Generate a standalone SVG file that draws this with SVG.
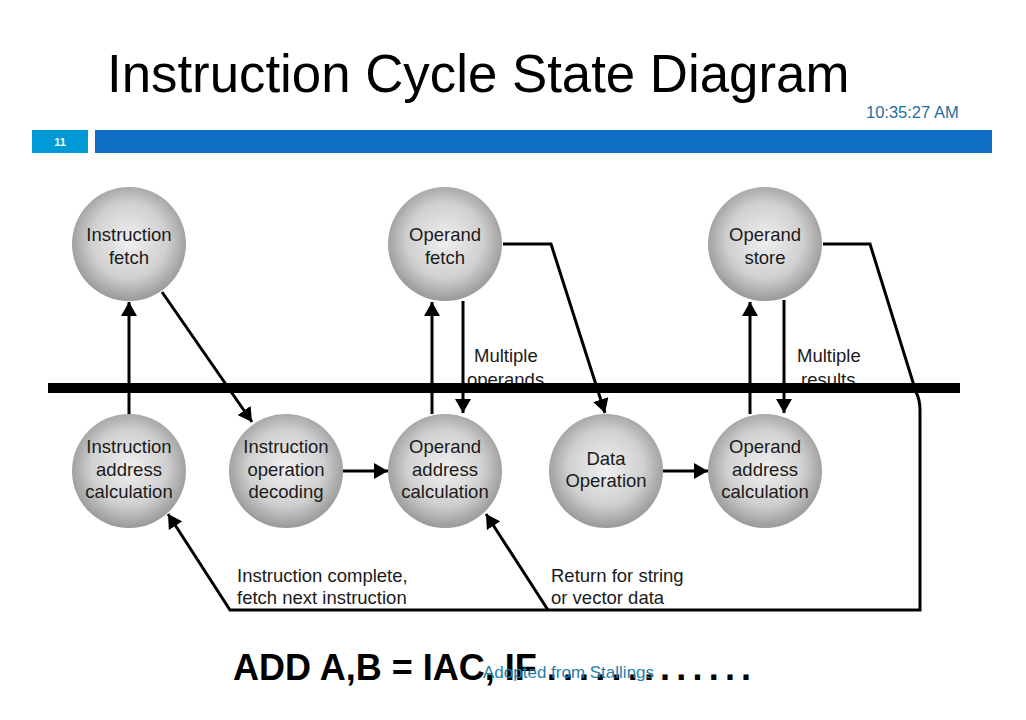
<svg xmlns="http://www.w3.org/2000/svg" width="1026" height="720" viewBox="0 0 1026 720">
<style>
.node circle{fill:url(#g)}
.nt{font-family:"Liberation Sans",Arial,sans-serif;font-size:18.5px;fill:#1a1a1a;text-anchor:middle}
.lbl{font-family:"Liberation Sans",Arial,sans-serif;font-size:18.5px;fill:#1a1a1a}
.c{fill:none;stroke:#000;stroke-width:3;stroke-linejoin:miter}
</style>
<defs>
<radialGradient id="g" cx="50%" cy="47%" r="55%">
<stop offset="0" stop-color="#f0f0f0"/>
<stop offset="0.6" stop-color="#d0d0d0"/>
<stop offset="1" stop-color="#939393"/>
</radialGradient>
<marker id="a" markerUnits="userSpaceOnUse" markerWidth="16" markerHeight="16" refX="14" refY="8" orient="auto">
<path d="M0,0 L14,8 L0,16 z" fill="#000"/>
</marker>
</defs>
<rect width="1026" height="720" fill="#fff"/>
<text x="107" y="92" font-family="Liberation Sans,Arial,sans-serif" font-size="52.8" fill="#000">Instruction Cycle State Diagram</text>
<text x="866" y="118" font-family="Liberation Sans,Arial,sans-serif" font-size="16.5" fill="#1f6e9e">10:35:27 AM</text>
<rect x="32" y="130" width="56" height="23" fill="#0099d8"/>
<text x="60" y="146" font-family="Liberation Sans,Arial,sans-serif" font-size="11" font-weight="bold" fill="#fff" text-anchor="middle">11</text>
<rect x="95" y="130" width="897" height="23" fill="#0f6fc6"/>

<g id="connectors">
<path class="c" d="M129,414 L129,302" marker-end="url(#a)"/>
<path class="c" d="M162,292 L252,422" marker-end="url(#a)"/>
<path class="c" d="M343,471 L388,471" marker-end="url(#a)"/>
<path class="c" d="M432,414 L432,302" marker-end="url(#a)"/>
<path class="c" d="M463,301 L463,413" marker-end="url(#a)"/>
<path class="c" d="M503,244 L551,244 L605,413" marker-end="url(#a)"/>
<path class="c" d="M663,471 L708,471" marker-end="url(#a)"/>
<path class="c" d="M750,414 L750,302" marker-end="url(#a)"/>
<path class="c" d="M784,300 L784,413" marker-end="url(#a)"/>
<path class="c" d="M823,244 L870,244 L916,392 Q920,400 920,410 L920,610 L230,610 L168,514" marker-end="url(#a)"/>
<path class="c" d="M548,610 L486,514" marker-end="url(#a)"/>
</g>

<g id="n-if" class="node"><circle cx="129" cy="244" r="57"/><text class="nt" x="129" y="241">Instruction</text><text class="nt" x="129" y="264">fetch</text></g>
<g id="n-of" class="node"><circle cx="445" cy="244" r="57"/><text class="nt" x="445" y="241">Operand</text><text class="nt" x="445" y="264">fetch</text></g>
<g id="n-os" class="node"><circle cx="765" cy="244" r="57"/><text class="nt" x="765" y="241">Operand</text><text class="nt" x="765" y="264">store</text></g>
<g id="n-iac" class="node"><circle cx="129" cy="471" r="57"/><text class="nt" x="129" y="453">Instruction</text><text class="nt" x="129" y="476">address</text><text class="nt" x="129" y="498">calculation</text></g>
<g id="n-iod" class="node"><circle cx="286" cy="471" r="57"/><text class="nt" x="286" y="453">Instruction</text><text class="nt" x="286" y="476">operation</text><text class="nt" x="286" y="498">decoding</text></g>
<g id="n-oac1" class="node"><circle cx="445" cy="471" r="57"/><text class="nt" x="445" y="453">Operand</text><text class="nt" x="445" y="476">address</text><text class="nt" x="445" y="498">calculation</text></g>
<g id="n-do" class="node"><circle cx="606" cy="471" r="57"/><text class="nt" x="606" y="465">Data</text><text class="nt" x="606" y="487">Operation</text></g>
<g id="n-oac2" class="node"><circle cx="765" cy="471" r="57"/><text class="nt" x="765" y="453">Operand</text><text class="nt" x="765" y="476">address</text><text class="nt" x="765" y="498">calculation</text></g>

<g id="labels">
<text class="lbl" x="474" y="362">Multiple</text>
<text class="lbl" x="467" y="386">operands</text>
<text class="lbl" x="797" y="362">Multiple</text>
<text class="lbl" x="801" y="386">results</text>
<text class="lbl" x="237" y="582">Instruction complete,</text>
<text class="lbl" x="237" y="604">fetch next instruction</text>
<text class="lbl" x="551" y="582">Return for string</text>
<text class="lbl" x="551" y="604">or vector data</text>
</g>
<rect id="bar" x="48" y="383" width="912" height="10" fill="#000"/>

<text x="233" y="680" font-family="Liberation Sans,Arial,sans-serif" font-size="36" font-weight="bold" fill="#000">ADD A,B = IAC, IF <tspan letter-spacing="6.2">.............</tspan></text>
<text x="483" y="678" font-family="Liberation Sans,Arial,sans-serif" font-size="17" fill="#1f7fa8">Adopted from Stallings</text>
</svg>
